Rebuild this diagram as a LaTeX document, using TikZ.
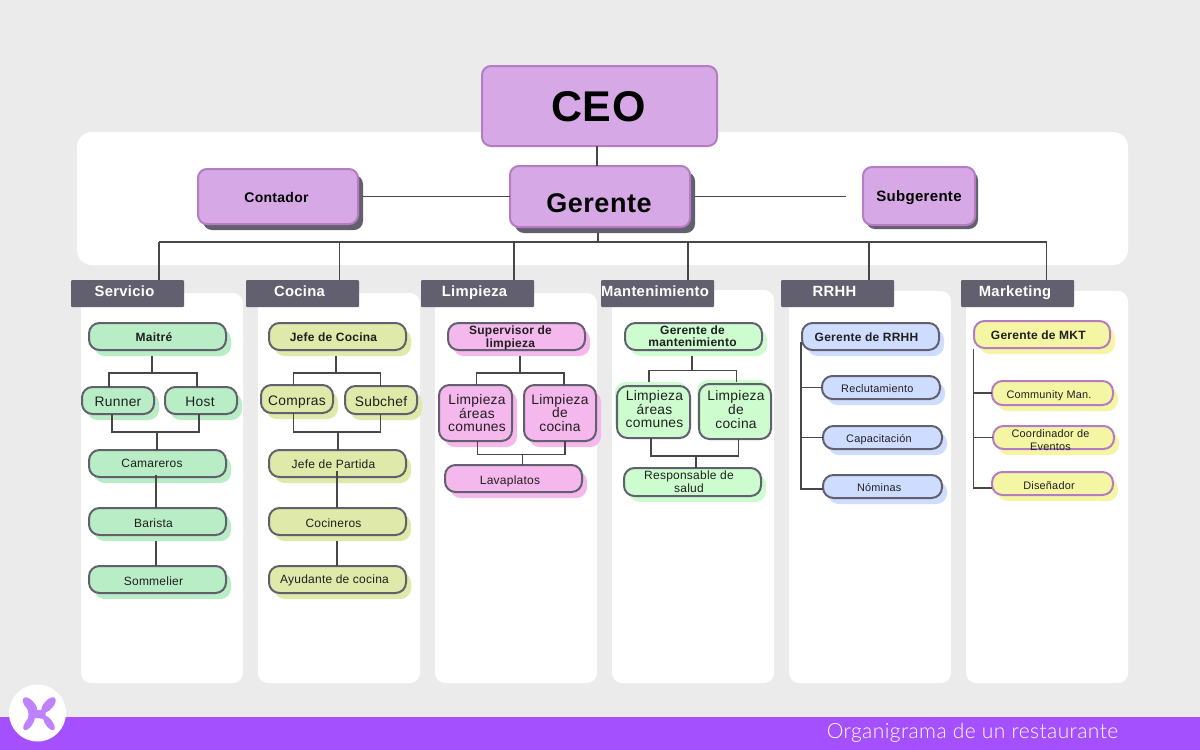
\documentclass[tikz,border=0pt]{standalone}
\usepackage{fontspec}
\setmainfont{Liberation Sans}[LetterSpace=2]
\newfontfamily\lightf{Lato}[UprightFont=* Light,LetterSpace=2]
\usetikzlibrary{shadows,calc}
\definecolor{bgc}{HTML}{EBEBEB}
\definecolor{slate}{HTML}{62606E}
\definecolor{violet}{HTML}{D7A8E6}
\definecolor{violetb}{HTML}{B57CC4}
\definecolor{cgreen}{HTML}{B8EDC5}
\definecolor{clime}{HTML}{DFE9A9}
\definecolor{cpink}{HTML}{F4B8EC}
\definecolor{cmint}{HTML}{CDFDCF}
\definecolor{cblue}{HTML}{CEDDFF}
\definecolor{cyellow}{HTML}{F4F6A4}
\definecolor{foot}{HTML}{A550FF}
\newcommand\fs[2]{\fontsize{#1}{#2}\selectfont}
\newcommand\T[3]{\raisebox{\dimexpr0pt-#2pt-0.25em-2.5pt\relax}[0pt][0pt]{\makebox[0pt]{\hspace*{\dimexpr#1pt*2\relax}\begin{tabular}[c]{@{}c@{}}#3\end{tabular}}}}
\newcommand\bx[7]{\node[#1,minimum width={#5-#3-2},minimum height={#6-#4-2}] (#2) at ({(#3+#5)/2},{(#4+#6)/2}) {#7};}
\tikzset{
  x=1pt,y=-1pt,
  card/.style={draw=slate,line width=2pt,rounded corners=10.5pt,inner sep=0pt,outer sep=0pt,text=black!88},
  top/.style={card,draw=violetb,fill=violet,rounded corners=9pt,text=black},
  gcard/.style={card,fill=cgreen,general shadow={shadow xshift=5pt,shadow yshift=-6pt,fill=cgreen}},
  lcard/.style={card,fill=clime,general shadow={shadow xshift=5pt,shadow yshift=-6pt,fill=clime}},
  pcard/.style={card,fill=cpink,general shadow={shadow xshift=5pt,shadow yshift=-6pt,fill=cpink}},
  mcard/.style={card,fill=cmint,general shadow={shadow xshift=5pt,shadow yshift=-6pt,fill=cmint}},
  mupcard/.style={card,fill=cmint,general shadow={shadow xshift=-2pt,shadow yshift=4pt,fill=cmint}},
  bcard/.style={card,fill=cblue,general shadow={shadow xshift=5pt,shadow yshift=-6pt,fill=cblue}},
  ycard/.style={card,draw=violetb,fill=cyellow,general shadow={shadow xshift=5pt,shadow yshift=-6pt,fill=cyellow}},
  hdr/.style={fill=slate,text=white,inner sep=0pt,outer sep=0pt,rounded corners=1pt,font=\bfseries\fs{14.8}{16}},
  panel/.style={fill=white,rounded corners=10pt},
  ln/.style={draw=black!72,line width=1.2pt},
  bl/.style={font=\bfseries\fs{12}{12}},
  sm/.style={font=\fs{12}{12}},
  xs/.style={font=\fs{10.9}{13}},
  lg/.style={font=\fs{13.8}{13}}
}
\begin{document}
\begin{tikzpicture}
\useasboundingbox (0,0) rectangle (1200,750);
\fill[bgc] (0,0) rectangle (1200,750);
% panels
\fill[panel,rounded corners=15pt] (77,132) rectangle (1128,265);
\fill[panel] (81,293) rectangle (243,683);
\fill[panel] (258,293) rectangle (420,683);
\fill[panel] (435,293) rectangle (597,683);
\fill[panel] (612,290) rectangle (774,683);
\fill[panel] (789,291) rectangle (951,683);
\fill[panel] (966,291) rectangle (1128,683);
% footer
\fill[foot] (0,717) rectangle (1200,750);
\fill[white] (37.5,713) circle (28.5);
\fill[foot!72] (30,705) ellipse [x radius=9.5,y radius=4.6,rotate=-48];
\fill[foot!72] (48.5,705) ellipse [x radius=9.5,y radius=4.6,rotate=48];
\fill[foot!72] (29,723) ellipse [x radius=8.5,y radius=3.6,rotate=55];
\fill[foot!72] (49,723) ellipse [x radius=8.5,y radius=3.6,rotate=-55];
\fill[foot!72] (27,708) .. controls (33,711) and (41,711) .. (47,708) .. controls (45,713) and (45,717) .. (47,721) .. controls (41,717) and (33,717) .. (27,721) .. controls (29,717) and (29,713) .. (27,708) -- cycle;
\node[text=white,inner sep=0pt,font=\lightf\fs{21}{22}] (foottext) at (972.5,732) {\T{0}{0}{Organigrama de un restaurante}};
% top
\bx{top,font=\bfseries\fs{43}{44}}{ceo}{481}{65}{718}{147}{\T{-1}{-0.5}{CEO}}
\bx{top,general shadow={shadow xshift=5pt,shadow yshift=-6pt,fill=slate},font=\bfseries\fs{27}{28}}{gerente}{509}{165}{691}{228}{\T{-1}{7.5}{Gerente}}
\bx{top,general shadow={shadow xshift=5pt,shadow yshift=-6pt,fill=slate},font=\bfseries\fs{14}{16}}{contador}{197}{168}{359}{225}{\T{-1.5}{0}{Contador}}
\bx{top,general shadow={shadow xshift=3pt,shadow yshift=-4pt,fill=slate},font=\bfseries\fs{15}{16}}{subgerente}{862}{166}{976}{226}{\T{0}{0}{Subgerente}}
% headers
\bx{hdr}{hs}{70}{279}{185}{308}{\T{-3}{-2.5}{Servicio}}
\bx{hdr}{hc}{245}{279}{360}{308}{\T{-3}{-2.5}{Cocina}}
\bx{hdr}{hl}{420}{279}{535}{308}{\T{-3}{-2.5}{Limpieza}}
\bx{hdr}{hm}{600}{279}{715}{308}{\T{-2.5}{-2.5}{Mantenimiento}}
\bx{hdr}{hr}{780}{279}{895}{308}{\T{-3}{-2.5}{RRHH}}
\bx{hdr}{hk}{960}{279}{1075}{308}{\T{-2.5}{-2.5}{Marketing}}
% Servicio
\bx{gcard,bl}{maitre}{88}{322}{227}{351}{\T{-3.5}{0}{Maitré}}
\bx{gcard,lg}{runner}{81}{386}{155}{415}{\T{0}{0.5}{Runner}}
\bx{gcard,lg}{host}{164}{386}{238}{415}{\T{-1}{0.5}{Host}}
\bx{gcard,sm}{camareros}{88}{449}{227}{478}{\T{-5.5}{-1}{Camareros}}
\bx{gcard,sm}{barista}{88}{507}{227}{536}{\T{-4}{0.5}{Barista}}
\bx{gcard,sm}{sommelier}{88}{565}{227}{594}{\T{-4}{0.5}{Sommelier}}
% Cocina
\bx{lcard,bl}{jefec}{268}{322}{407}{351}{\T{-4}{0}{Jefe de Cocina}}
\bx{lcard,lg}{compras}{260}{384}{334}{414}{\T{0}{1}{Compras}}
\bx{lcard,lg}{subchef}{344}{385}{418}{415}{\T{0}{1}{Subchef}}
\bx{lcard,sm}{jefep}{268}{449}{407}{478}{\T{-4}{-0.5}{Jefe de Partida}}
\bx{lcard,sm}{cocineros}{268}{507}{407}{536}{\T{-4}{0.5}{Cocineros}}
\bx{lcard,sm}{ayudante}{268}{565}{407}{594}{\T{-3}{-1.5}{Ayudante de cocina}}
% Limpieza
\bx{pcard,bl}{superv}{447}{322}{586}{351}{\T{-6}{-0.5}{Supervisor de\\limpieza}}
\bx{pcard,lg}{lareas}{438}{384}{513}{442}{\T{1.5}{-0.5}{Limpieza\\áreas\\comunes}}
\bx{pcard,lg}{lcoc}{523}{384}{597}{442}{\T{0}{-0.5}{Limpieza\\de\\cocina}}
\bx{pcard,sm}{lavap}{444}{464}{583}{493}{\T{-3.5}{0.5}{Lavaplatos}}
% Mantenimiento
\bx{mcard,font=\bfseries\fs{12}{11}}{germ}{624}{322}{763}{351}{\T{-1}{-1}{Gerente de\\mantenimiento}}
\bx{mupcard,lg}{mareas}{616}{385}{691}{439}{\T{1}{-3.3}{Limpieza\\áreas\\comunes}}
\bx{mupcard,lg}{mcoc}{698}{383}{772}{440}{\T{1}{-2.6}{Limpieza\\de\\cocina}}
\bx{mcard,sm}{resp}{623}{467}{762}{497}{\T{-3.5}{-1}{Responsable de\\salud}}
% RRHH
\bx{bcard,bl}{germr}{801}{322}{940}{351}{\T{-4}{0}{Gerente de RRHH}}
\bx{bcard,xs}{recl}{821}{375}{941}{400}{\T{-3.7}{0}{Reclutamiento}}
\bx{bcard,xs}{capa}{822}{425}{943}{450}{\T{-3.6}{0}{Capacitación}}
\bx{bcard,xs}{nomi}{822}{474}{943}{499}{\T{-3.3}{0}{Nóminas}}
% Marketing
\bx{ycard,bl}{germk}{973}{320}{1111}{349}{\T{-3.7}{0}{Gerente de MKT}}
\bx{ycard,xs}{comm}{991}{380}{1114}{406}{\T{-3.5}{0.5}{Community Man.}}
\bx{ycard,xs}{coord}{992}{425}{1115}{450}{\T{-3}{1.5}{Coordinador de\\Eventos}}
\bx{ycard,xs}{dise}{991}{471}{1114}{496}{\T{-3.5}{0.5}{Diseñador}}
% ---- connectors: top
\coordinate (subend) at (846,197);
\coordinate (bus) at (598,242);
\coordinate (busl) at (159,242);
\coordinate (busr) at (1046.5,242);
\draw[ln] (597,0 |- ceo.south) -- (597,0 |- gerente.north);
\draw[ln] ($(contador.east)+(5,0)$) -- (gerente.west);
\draw[ln] ($(gerente.east)+(5,0)$) -- (subend |- gerente.east);
\draw[ln] ($(598,0 |- gerente.south)+(0,6)$) -- (bus);
\draw[ln] (busl) -- (busr);
\draw[ln] (busl) -- (busl |- hs.north);
\draw[ln] (339.5,242) -- (339.5,0 |- hc.north);
\draw[ln] (514,242) -- (514,0 |- hl.north);
\draw[ln] (688,242) -- (688,0 |- hm.north);
\draw[ln] (869,242) -- (869,0 |- hr.north);
\draw[ln] (busr) -- (busr |- hk.north);
% Servicio connectors
\coordinate (sa) at (152,373); \coordinate (sal) at (109,373); \coordinate (sar) at (197,373);
\coordinate (sb) at (157,432); \coordinate (sbl) at (112,432); \coordinate (sbr) at (199,432);
\draw[ln] ($(sa |- maitre.south)+(0,6)$) -- (sa);
\draw[ln] (sal |- runner.north) -- (sal) -- (sar) -- (sar |- host.north);
\draw[ln] (sbl |- runner.south) -- (sbl) -- (sbr) -- (sbr |- host.south);
\draw[ln] (sb) -- (sb |- camareros.north);
\draw[ln] ($(156,0 |- camareros.south)+(0,-2)$) -- (156,0 |- barista.north);
\draw[ln] ($(156,0 |- barista.south)+(0,6)$) -- (156,0 |- sommelier.north);
% Cocina connectors
\coordinate (ca) at (336,373); \coordinate (cal) at (293.5,373); \coordinate (car) at (380.5,373);
\coordinate (cb) at (338,432); \coordinate (cbl) at (293.5,432); \coordinate (cbr) at (380.5,432);
\draw[ln] ($(ca |- jefec.south)+(0,6)$) -- (ca);
\draw[ln] (cal |- compras.north) -- (cal) -- (car) -- (car |- subchef.north);
\draw[ln] (cbl |- compras.south) -- (cbl) -- (cbr) -- (cbr |- subchef.south);
\draw[ln] (cb) -- (cb |- jefep.north);
\draw[ln] ($(337,0 |- jefep.south)+(0,-6)$) -- (337,0 |- cocineros.north);
\draw[ln] ($(337,0 |- cocineros.south)+(0,6)$) -- (337,0 |- ayudante.north);
% Limpieza connectors
\coordinate (la) at (520,373); \coordinate (lal) at (476.5,373); \coordinate (lar) at (564,373);
\coordinate (lb) at (522.5,454.5); \coordinate (lbl) at (477.5,454.5); \coordinate (lbr) at (565,454.5);
\draw[ln] ($(la |- superv.south)+(0,6)$) -- (la);
\draw[ln] (lal |- lareas.north) -- (lal) -- (lar) -- (lar |- lcoc.north);
\draw[ln] (lbl |- lareas.south) -- (lbl) -- (lbr) -- (lbr |- lcoc.south);
\draw[ln] (lb) -- (lb |- lavap.north);
% Mantenimiento connectors
\coordinate (ma) at (692,370.5); \coordinate (mal) at (649,370.5); \coordinate (mar) at (736.5,370.5);
\coordinate (mb) at (696,456); \coordinate (mbl) at (651,456); \coordinate (mbr) at (738.5,456);
\draw[ln] ($(ma |- germ.south)+(0,6)$) -- (ma);
\draw[ln] ($(mal |- mareas.north)+(0,-4)$) -- (mal) -- (mar) -- ($(mar |- mcoc.north)+(0,-2)$);
\draw[ln] (mbl |- mareas.south) -- (mbl) -- (mbr) -- (mbr |- mcoc.south);
\draw[ln] (mb) -- (mb |- resp.north);
% RRHH connectors
\coordinate (rt) at (801,342); \coordinate (rb) at (801,489);
\draw[ln] (rt) -- (rb) -- (nomi.west |- rb);
\draw[ln] (rt |- recl.west) -- (recl.west);
\draw[ln] (rt |- capa.west) -- (capa.west);
% Marketing connectors
\coordinate (kt) at (973.5,349); \coordinate (kb) at (973.5,488);
\draw[ln] (kt) -- (kb) -- (dise.west |- kb);
\draw[ln] (kt |- comm.west) -- (comm.west);
\draw[ln] (kt |- coord.west) -- (coord.west);
\end{tikzpicture}
\end{document}
